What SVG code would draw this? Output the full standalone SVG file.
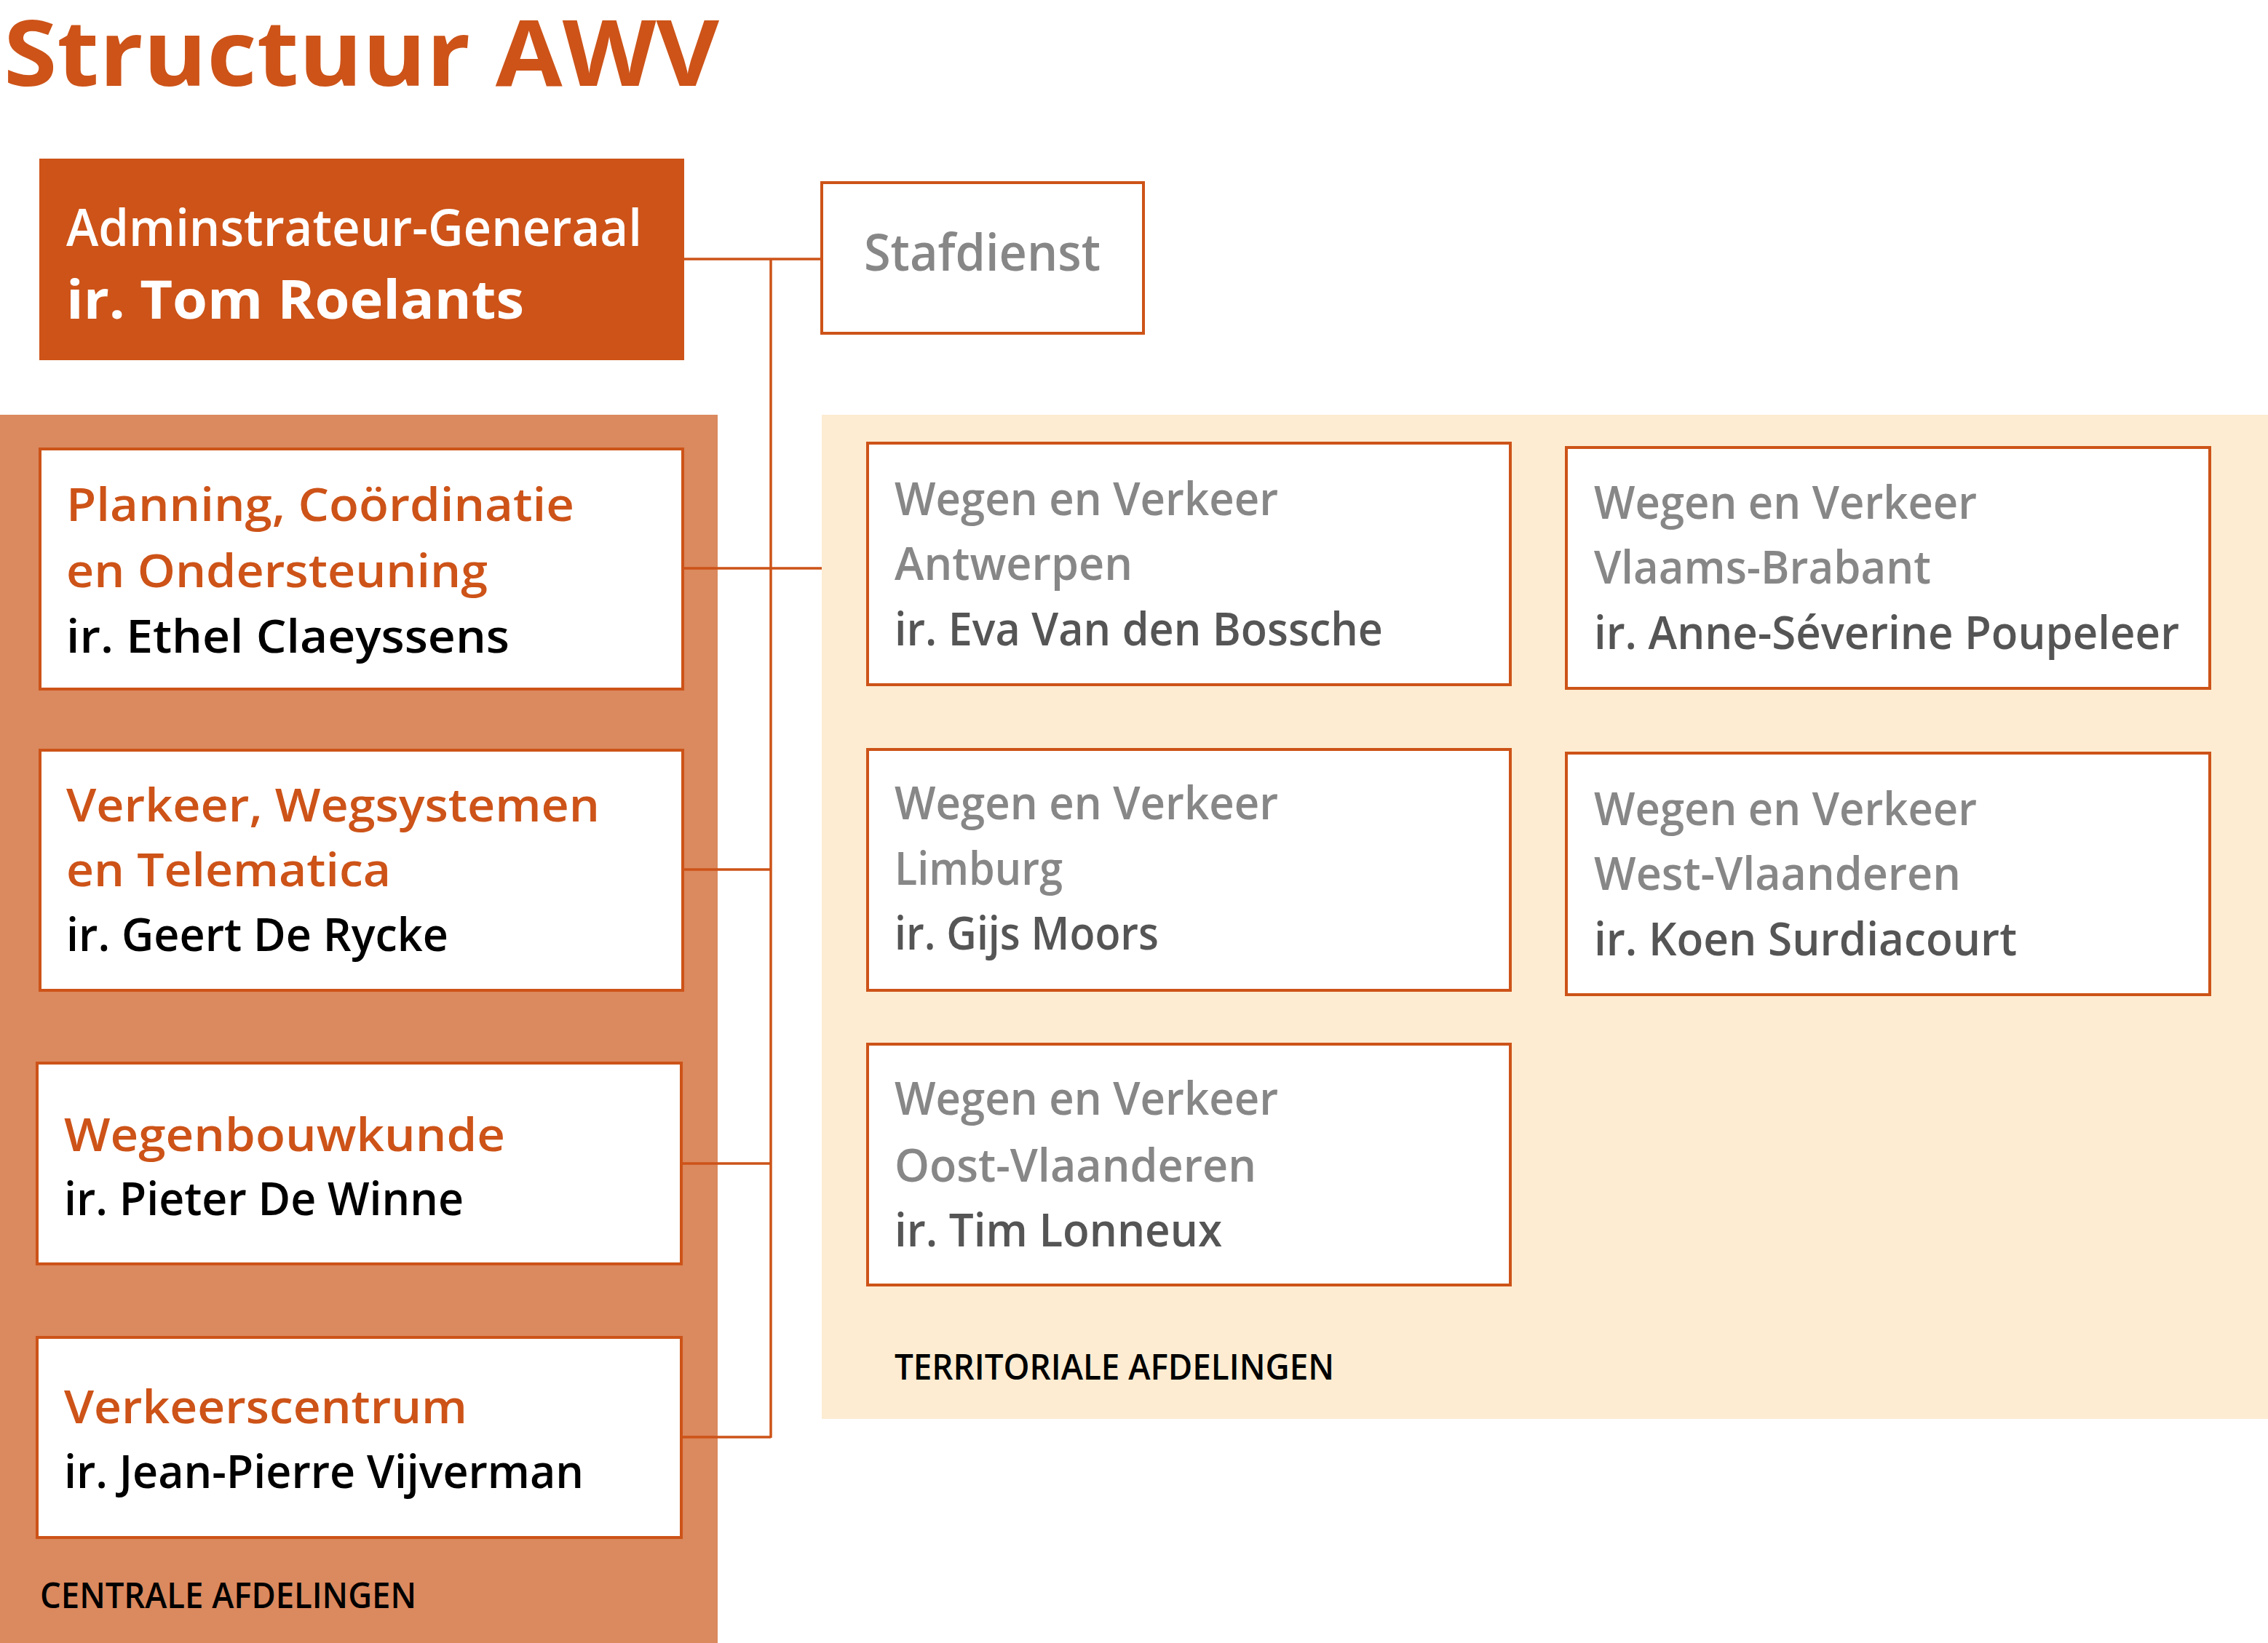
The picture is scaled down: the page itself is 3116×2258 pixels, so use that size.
<svg xmlns="http://www.w3.org/2000/svg" width="3116" height="2258" viewBox="0 0 3116 2258">
<style>
text{font-family:"Open Sans","Noto Sans","DejaVu Sans",sans-serif;}
.box{fill:#ffffff;stroke:#CD5318;stroke-width:4;}
.con{stroke:#CD5318;stroke-width:3.5;fill:none;}
.t{font-size:64px;font-weight:600;}
.or{fill:#CD5318;}
.bk{fill:#000000;}
.gr{fill:#878787;}
.dg{fill:#555555;}
.lab{font-size:48px;font-weight:600;fill:#000;}
</style>
<rect x="0" y="0" width="3116" height="2258" fill="#ffffff"/>
<text x="5" y="118" font-size="125" font-weight="700" fill="#CD5318" textLength="983" lengthAdjust="spacingAndGlyphs">Structuur AWV</text>
<g id="central-bg">
<rect x="0" y="570" width="986" height="1688" fill="#DB895E"/>
<text class="lab" x="55" y="2210" textLength="517" lengthAdjust="spacingAndGlyphs">CENTRALE AFDELINGEN</text>
</g>
<g id="territorial-bg">
<rect x="1129" y="570" width="1987" height="1380" fill="#FDECD2"/>
<text class="lab" x="1229" y="1896" textLength="604" lengthAdjust="spacingAndGlyphs">TERRITORIALE AFDELINGEN</text>
</g>
<g id="connectors">
<line class="con" x1="1059" y1="356" x2="1059" y2="1976"/>
<line class="con" x1="940" y1="356" x2="1129" y2="356"/>
<line class="con" x1="938" y1="781" x2="1129" y2="781"/>
<line class="con" x1="938" y1="1195" x2="1059" y2="1195"/>
<line class="con" x1="936" y1="1599" x2="1059" y2="1599"/>
<line class="con" x1="936" y1="1975" x2="1059" y2="1975"/>
</g>
<g id="ag">
<rect x="54" y="218" width="886" height="277" fill="#CD5318"/>
<text x="91" y="338" font-size="70" font-weight="600" fill="#ffffff" textLength="791" lengthAdjust="spacingAndGlyphs">Adminstrateur-Generaal</text>
<text x="91" y="438" font-size="73" font-weight="700" fill="#ffffff" textLength="629" lengthAdjust="spacingAndGlyphs">ir. Tom Roelants</text>
</g>
<g id="stafdienst">
<rect class="box" x="1129" y="251" width="442" height="207"/>
<text x="1187" y="372" font-size="70" font-weight="600" class="gr" textLength="325" lengthAdjust="spacingAndGlyphs">Stafdienst</text>
</g>
<g id="planning">
<rect class="box" x="55" y="617" width="883" height="330"/>
<text class="t or" x="91" y="716" textLength="698" lengthAdjust="spacingAndGlyphs">Planning, Coördinatie</text>
<text class="t or" x="91" y="807" textLength="579" lengthAdjust="spacingAndGlyphs">en Ondersteuning</text>
<text class="t bk" x="91" y="897" textLength="609" lengthAdjust="spacingAndGlyphs">ir. Ethel Claeyssens</text>
</g>
<g id="verkeer">
<rect class="box" x="55" y="1031" width="883" height="330"/>
<text class="t or" x="91" y="1129" textLength="733" lengthAdjust="spacingAndGlyphs">Verkeer, Wegsystemen</text>
<text class="t or" x="91" y="1218" textLength="446" lengthAdjust="spacingAndGlyphs">en Telematica</text>
<text class="t bk" x="91" y="1307" textLength="525" lengthAdjust="spacingAndGlyphs">ir. Geert De Rycke</text>
</g>
<g id="wegenbouwkunde">
<rect class="box" x="51" y="1461" width="885" height="276"/>
<text class="t or" x="88" y="1582" textLength="606" lengthAdjust="spacingAndGlyphs">Wegenbouwkunde</text>
<text class="t bk" x="88" y="1670" textLength="549" lengthAdjust="spacingAndGlyphs">ir. Pieter De Winne</text>
</g>
<g id="verkeerscentrum">
<rect class="box" x="51" y="1838" width="885" height="275"/>
<text class="t or" x="88" y="1956" textLength="554" lengthAdjust="spacingAndGlyphs">Verkeerscentrum</text>
<text class="t bk" x="88" y="2045" textLength="714" lengthAdjust="spacingAndGlyphs">ir. Jean-Pierre Vijverman</text>
</g>
<g id="antwerpen">
<rect class="box" x="1192" y="609" width="883" height="332"/>
<text class="t gr" x="1229" y="708" textLength="527" lengthAdjust="spacingAndGlyphs">Wegen en Verkeer</text>
<text class="t gr" x="1229" y="797" textLength="327" lengthAdjust="spacingAndGlyphs">Antwerpen</text>
<text class="t dg" x="1229" y="887" textLength="671" lengthAdjust="spacingAndGlyphs">ir. Eva Van den Bossche</text>
</g>
<g id="vlaams-brabant">
<rect class="box" x="2152" y="615" width="884" height="331"/>
<text class="t gr" x="2190" y="713" textLength="526" lengthAdjust="spacingAndGlyphs">Wegen en Verkeer</text>
<text class="t gr" x="2190" y="802" textLength="463" lengthAdjust="spacingAndGlyphs">Vlaams-Brabant</text>
<text class="t dg" x="2190" y="892" textLength="804" lengthAdjust="spacingAndGlyphs">ir. Anne-Séverine Poupeleer</text>
</g>
<g id="limburg">
<rect class="box" x="1192" y="1030" width="883" height="331"/>
<text class="t gr" x="1229" y="1126" textLength="527" lengthAdjust="spacingAndGlyphs">Wegen en Verkeer</text>
<text class="t gr" x="1229" y="1216" textLength="231" lengthAdjust="spacingAndGlyphs">Limburg</text>
<text class="t dg" x="1229" y="1305" textLength="363" lengthAdjust="spacingAndGlyphs">ir. Gijs Moors</text>
</g>
<g id="west-vlaanderen">
<rect class="box" x="2152" y="1035" width="884" height="332"/>
<text class="t gr" x="2190" y="1134" textLength="526" lengthAdjust="spacingAndGlyphs">Wegen en Verkeer</text>
<text class="t gr" x="2190" y="1223" textLength="504" lengthAdjust="spacingAndGlyphs">West-Vlaanderen</text>
<text class="t dg" x="2190" y="1313" textLength="581" lengthAdjust="spacingAndGlyphs">ir. Koen Surdiacourt</text>
</g>
<g id="oost-vlaanderen">
<rect class="box" x="1192" y="1435" width="883" height="331"/>
<text class="t gr" x="1229" y="1532" textLength="527" lengthAdjust="spacingAndGlyphs">Wegen en Verkeer</text>
<text class="t gr" x="1229" y="1624" textLength="497" lengthAdjust="spacingAndGlyphs">Oost-Vlaanderen</text>
<text class="t dg" x="1229" y="1713" textLength="450" lengthAdjust="spacingAndGlyphs">ir. Tim Lonneux</text>
</g>
</svg>
